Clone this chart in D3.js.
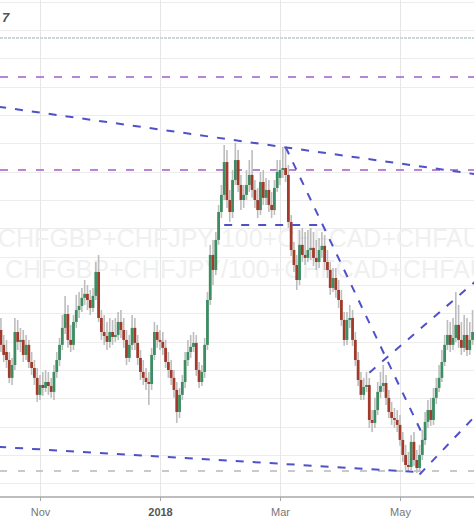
<!DOCTYPE html>
<html>
<head>
<meta charset="utf-8">
<script src="https://cdn.jsdelivr.net/npm/d3@7"></script>
<style>
html, body { margin: 0; padding: 0; background: #fff; }
svg { display: block; }
</style>
</head>
<body>
<div class="chart"></div>
<script>
var NS = {}; // namespace
NS.width = 474;
NS.height = 520;
NS.axisY = 497;

// first and last session in view (weekdays only)
var firstSession = "2017-10-11";
var lastSession = "2018-06-07";

// daily candles [open, high, low, close], one per weekday from firstSession
var ohlc = [
  [6.4181, 6.4259, 6.4040, 6.4082], [6.4082, 6.4167, 6.3927, 6.3977], [6.3977, 6.4047, 6.3856, 6.3906],
  [6.3927, 6.4012, 6.3814, 6.3870], [6.3870, 6.3927, 6.3708, 6.3744], [6.3744, 6.3885, 6.3694, 6.3835],
  [6.3835, 6.4167, 6.3800, 6.4068], [6.4068, 6.4153, 6.3941, 6.3998], [6.3998, 6.4097, 6.3927, 6.4012],
  [6.4012, 6.4082, 6.3856, 6.3906], [6.3906, 6.4047, 6.3870, 6.3977], [6.3977, 6.4012, 6.3814, 6.3856],
  [6.3856, 6.3927, 6.3765, 6.3814], [6.3814, 6.3870, 6.3694, 6.3744], [6.3744, 6.3814, 6.3574, 6.3624],
  [6.3624, 6.3765, 6.3588, 6.3694], [6.3694, 6.3786, 6.3617, 6.3673], [6.3673, 6.3800, 6.3645, 6.3715],
  [6.3715, 6.3786, 6.3624, 6.3687], [6.3687, 6.3744, 6.3603, 6.3645], [6.3645, 6.3835, 6.3588, 6.3786],
  [6.3786, 6.3927, 6.3744, 6.3870], [6.3870, 6.4026, 6.3828, 6.3977], [6.3977, 6.4188, 6.3941, 6.4097],
  [6.4097, 6.4323, 6.4054, 6.4195], [6.4195, 6.4259, 6.3956, 6.4012], [6.4012, 6.4118, 6.3927, 6.3977],
  [6.3977, 6.4188, 6.3941, 6.4139], [6.4139, 6.4330, 6.4097, 6.4223], [6.4223, 6.4351, 6.4167, 6.4252],
  [6.4252, 6.4379, 6.4209, 6.4309], [6.4309, 6.4435, 6.4259, 6.4337], [6.4337, 6.4400, 6.4223, 6.4294],
  [6.4294, 6.4365, 6.4188, 6.4238], [6.4238, 6.4379, 6.4209, 6.4323], [6.4323, 6.4562, 6.4294, 6.4492],
  [6.4492, 6.4612, 6.4139, 6.4167], [6.4167, 6.4223, 6.4012, 6.4068], [6.4068, 6.4188, 6.3977, 6.4040],
  [6.4040, 6.4139, 6.3941, 6.3998], [6.3998, 6.4167, 6.3956, 6.4068], [6.4068, 6.4153, 6.3977, 6.4033],
  [6.4033, 6.4167, 6.3998, 6.4047], [6.4047, 6.4209, 6.4012, 6.4139], [6.4139, 6.4223, 6.4026, 6.4082],
  [6.4082, 6.4167, 6.3956, 6.4012], [6.4012, 6.4082, 6.3835, 6.3885], [6.3885, 6.4047, 6.3856, 6.3977],
  [6.3977, 6.4188, 6.3941, 6.4097], [6.4097, 6.4167, 6.3941, 6.3991], [6.3991, 6.4047, 6.3835, 6.3885],
  [6.3885, 6.3941, 6.3729, 6.3786], [6.3786, 6.3870, 6.3694, 6.3744], [6.3744, 6.3814, 6.3659, 6.3715],
  [6.3715, 6.3786, 6.3553, 6.3701], [6.3701, 6.3956, 6.3659, 6.3906], [6.3906, 6.4139, 6.3870, 6.4068],
  [6.4068, 6.4118, 6.3956, 6.4012], [6.4012, 6.4082, 6.3941, 6.3998], [6.3998, 6.4068, 6.3906, 6.3956],
  [6.3956, 6.4012, 6.3814, 6.3856], [6.3856, 6.3927, 6.3744, 6.3800], [6.3800, 6.3870, 6.3694, 6.3744],
  [6.3744, 6.3800, 6.3603, 6.3659], [6.3659, 6.3715, 6.3426, 6.3503], [6.3503, 6.3673, 6.3461, 6.3624],
  [6.3624, 6.3765, 6.3588, 6.3715], [6.3715, 6.3927, 6.3673, 6.3870], [6.3870, 6.4012, 6.3828, 6.3927],
  [6.3927, 6.4047, 6.3885, 6.3963], [6.3963, 6.4068, 6.3927, 6.3991], [6.3991, 6.4047, 6.3758, 6.3800],
  [6.3800, 6.3856, 6.3673, 6.3715], [6.3715, 6.3835, 6.3687, 6.3786], [6.3786, 6.4026, 6.3744, 6.3977],
  [6.3977, 6.4351, 6.3941, 6.4294], [6.4294, 6.4683, 6.4259, 6.4612], [6.4612, 6.4718, 6.4400, 6.4506],
  [6.4506, 6.4774, 6.4471, 6.4718], [6.4718, 6.4965, 6.4683, 6.4915], [6.4915, 6.5106, 6.4873, 6.5036],
  [6.5036, 6.5389, 6.5000, 6.5268], [6.5268, 6.5353, 6.4944, 6.5000], [6.5000, 6.5071, 6.4845, 6.4915],
  [6.4915, 6.5212, 6.4873, 6.5141], [6.5141, 6.5403, 6.5106, 6.5282], [6.5282, 6.5353, 6.5057, 6.5106],
  [6.5106, 6.5177, 6.4929, 6.5000], [6.5000, 6.5106, 6.4944, 6.5036], [6.5036, 6.5212, 6.5000, 6.5106],
  [6.5106, 6.5282, 6.5057, 6.5177], [6.5177, 6.5353, 6.5015, 6.5071], [6.5071, 6.5141, 6.4944, 6.5000],
  [6.5000, 6.5085, 6.4873, 6.4929], [6.4929, 6.5198, 6.4894, 6.5127], [6.5127, 6.5212, 6.4965, 6.5015],
  [6.5015, 6.5156, 6.4965, 6.5071], [6.5071, 6.5141, 6.4915, 6.4965], [6.4965, 6.5057, 6.4873, 6.4929],
  [6.4929, 6.5141, 6.4894, 6.5085], [6.5085, 6.5282, 6.5057, 6.5198], [6.5156, 6.5282, 6.5106, 6.5212],
  [6.5212, 6.5375, 6.5156, 6.5226], [6.5226, 6.5367, 6.5127, 6.5177], [6.5177, 6.5247, 6.4803, 6.4845],
  [6.4845, 6.4894, 6.4605, 6.4647], [6.4647, 6.4704, 6.4492, 6.4541], [6.4541, 6.4612, 6.4365, 6.4435],
  [6.4435, 6.4788, 6.4400, 6.4683], [6.4683, 6.4803, 6.4562, 6.4612], [6.4612, 6.4774, 6.4541, 6.4591],
  [6.4591, 6.4788, 6.4562, 6.4647], [6.4647, 6.4803, 6.4576, 6.4662], [6.4662, 6.4774, 6.4534, 6.4591],
  [6.4591, 6.4718, 6.4506, 6.4562], [6.4562, 6.4732, 6.4520, 6.4647], [6.4647, 6.4774, 6.4591, 6.4676],
  [6.4676, 6.4753, 6.4506, 6.4562], [6.4562, 6.4647, 6.4449, 6.4506], [6.4506, 6.4562, 6.4330, 6.4379],
  [6.4379, 6.4520, 6.4351, 6.4449], [6.4449, 6.4520, 6.4309, 6.4365], [6.4365, 6.4435, 6.4238, 6.4294],
  [6.4294, 6.4365, 6.4111, 6.4153], [6.4153, 6.4209, 6.3970, 6.4012], [6.4012, 6.4209, 6.3977, 6.4153],
  [6.4153, 6.4259, 6.4097, 6.4167], [6.4167, 6.4223, 6.3970, 6.4012], [6.4012, 6.4068, 6.3828, 6.3870],
  [6.3870, 6.3927, 6.3687, 6.3729], [6.3729, 6.3786, 6.3588, 6.3624], [6.3624, 6.3744, 6.3588, 6.3680],
  [6.3680, 6.3786, 6.3645, 6.3694], [6.3694, 6.3744, 6.3391, 6.3447], [6.3447, 6.3517, 6.3362, 6.3426],
  [6.3426, 6.3603, 6.3391, 6.3517], [6.3517, 6.3715, 6.3482, 6.3645], [6.3645, 6.3786, 6.3603, 6.3687],
  [6.3687, 6.3835, 6.3645, 6.3708], [6.3708, 6.3765, 6.3553, 6.3603], [6.3603, 6.3659, 6.3461, 6.3503],
  [6.3503, 6.3574, 6.3412, 6.3461], [6.3461, 6.3531, 6.3391, 6.3447], [6.3447, 6.3517, 6.3362, 6.3412],
  [6.3412, 6.3482, 6.3264, 6.3306], [6.3306, 6.3362, 6.3150, 6.3200], [6.3200, 6.3271, 6.3094, 6.3129],
  [6.3129, 6.3221, 6.3080, 6.3115], [6.3115, 6.3341, 6.3094, 6.3292], [6.3292, 6.3362, 6.3122, 6.3164],
  [6.3164, 6.3235, 6.3073, 6.3108], [6.3108, 6.3271, 6.3080, 6.3200], [6.3200, 6.3376, 6.3164, 6.3306],
  [6.3306, 6.3503, 6.3271, 6.3433], [6.3433, 6.3588, 6.3391, 6.3517], [6.3517, 6.3603, 6.3405, 6.3447],
  [6.3447, 6.3673, 6.3412, 6.3603], [6.3603, 6.3744, 6.3560, 6.3673], [6.3673, 6.3835, 6.3645, 6.3744],
  [6.3744, 6.3941, 6.3715, 6.3856], [6.3856, 6.4047, 6.3828, 6.3977], [6.3977, 6.4153, 6.3941, 6.4047],
  [6.4047, 6.4139, 6.3927, 6.3977], [6.3977, 6.4167, 6.3941, 6.4026], [6.4026, 6.4351, 6.3998, 6.4118],
  [6.4118, 6.4259, 6.3956, 6.4012], [6.4012, 6.4139, 6.3906, 6.3956], [6.3956, 6.4188, 6.3927, 6.4047],
  [6.4047, 6.4167, 6.3899, 6.3941], [6.3941, 6.4139, 6.3906, 6.4012], [6.4012, 6.4223, 6.3977, 6.4068],
  [6.4068, 6.4188, 6.3941, 6.3977]
];

// x axis labels
var tickDates = ["2017-11-01", "2018-01-01", "2018-03-01", "2018-05-01"];
var tickLabels = ["Nov", "2018", "Mar", "May"];

// horizontal levels
var purpleLevels = [6.5868, 6.5212];
var tealLevel = 6.6144;
var grayLevel = 6.3087;

// trend lines [fromDate, fromValue, toDate, toValue]
var trendLines = [
  ["2017-10-11", 6.5659, "2018-06-07", 6.5182],
  ["2018-03-05", 6.5374, "2018-05-14", 6.3306],
  ["2018-02-01", 6.4824, "2018-03-22", 6.4824],
  ["2018-04-16", 6.3781, "2018-06-07", 6.4425],
  ["2018-05-10", 6.3062, "2018-06-07", 6.3476],
  ["2017-10-11", 6.3257, "2018-05-09", 6.3080]
];

var watermark = ["CHFGBP+CHFJPY/100+CHFCAD+CHFAUD", "CHFGBP+CHFJPY/100+CHFCAD+CHFAUD"];
var titleTail = "7";

function main() {
  var parse = d3.timeParse("%Y-%m-%d");
  var fmt = d3.timeFormat("%Y-%m-%d");

  // weekday sessions
  NS.sessions = d3.timeDay.range(parse(firstSession), d3.timeDay.offset(parse(lastSession), 1))
    .filter(function(d) { return d.getDay() != 0 && d.getDay() != 6; })
    .map(fmt);
  var idx = function(s) { return NS.sessions.indexOf(s); };

  var x = d3.scaleLinear()
    .domain([idx(tickDates[0]), idx(tickDates[3])])
    .range([40, 400]);
  var y = d3.scaleLinear()
    .domain([6.2903, 6.6412])
    .range([NS.axisY, 0]);

  NS.svg = d3.select(".chart").append("svg")
    .attr("width", NS.width)
    .attr("height", NS.height)
    .style("font-family", "'Liberation Sans', Arial, sans-serif");

  // grid
  var grid = NS.svg.append("g").attr("class", "grid");
  grid.selectAll("line.h")
    .data(y.ticks(18))
    .enter().append("line")
      .attr("class", "h")
      .attr("x1", 0).attr("x2", NS.width)
      .attr("y1", function(d) { return Math.round(y(d)) + 0.5; })
      .attr("y2", function(d) { return Math.round(y(d)) + 0.5; })
      .attr("stroke", "#ececec");
  grid.selectAll("line.v")
    .data(tickDates)
    .enter().append("line")
      .attr("class", "v")
      .attr("x1", function(d) { return Math.round(x(idx(d))) + 0.5; })
      .attr("x2", function(d) { return Math.round(x(idx(d))) + 0.5; })
      .attr("y1", 0).attr("y2", NS.axisY)
      .attr("stroke", "#e6e6e6");

  // watermark (runs past the right edge, as in the source)
  NS.svg.append("g").selectAll("text")
    .data(watermark)
    .enter().append("text")
      .attr("x", function(d, i) { return i == 0 ? -2 : 5; })
      .attr("y", function(d, i) { return i == 0 ? 247 : 278; })
      .attr("font-size", 25)
      .attr("fill", "#f0f0f0")
      .text(function(d) { return d; });

  // title remnant
  NS.svg.append("text")
    .attr("x", 2).attr("y", 22)
    .attr("font-size", 13)
    .attr("font-weight", "bold")
    .attr("font-style", "italic")
    .attr("fill", "#555")
    .text(titleTail);

  // levels
  var levels = NS.svg.append("g").attr("class", "levels");
  levels.append("line")
    .attr("x1", 0).attr("x2", NS.width)
    .attr("y1", y(tealLevel)).attr("y2", y(tealLevel))
    .attr("stroke", "#c9d9d9").attr("stroke-width", 2)
    .attr("stroke-dasharray", "3,1");
  levels.selectAll("line.purple")
    .data(purpleLevels)
    .enter().append("line")
      .attr("class", "purple")
      .attr("x1", 0).attr("x2", NS.width)
      .attr("y1", function(d) { return y(d); })
      .attr("y2", function(d) { return y(d); })
      .attr("stroke", "#b884d8").attr("stroke-width", 2)
      .attr("stroke-dasharray", "8,10");
  levels.append("line")
    .attr("x1", 0).attr("x2", NS.width)
    .attr("y1", y(grayLevel)).attr("y2", y(grayLevel))
    .attr("stroke", "#b8b8b8").attr("stroke-width", 1.5)
    .attr("stroke-dasharray", "7,11");

  // candles
  var candle = NS.svg.append("g").attr("class", "candles")
    .selectAll("g")
    .data(ohlc)
    .enter().append("g");
  candle.append("line")
    .attr("x1", function(d, i) { return x(i); })
    .attr("x2", function(d, i) { return x(i); })
    .attr("y1", function(d) { return y(d[1]); })
    .attr("y2", function(d) { return y(d[2]); })
    .attr("stroke", "#bdbdbd")
    .attr("stroke-width", 1.6);
  candle.append("rect")
    .attr("x", function(d, i) { return x(i) - 1.4; })
    .attr("width", 2.8)
    .attr("y", function(d) { return y(Math.max(d[0], d[3])); })
    .attr("height", function(d) { return Math.max(1, Math.abs(y(d[0]) - y(d[3]))); })
    .attr("fill", function(d) { return d[3] >= d[0] ? "#3d8c62" : "#a03a2a"; });

  // trend lines
  NS.svg.append("g").attr("class", "trends")
    .selectAll("line")
    .data(trendLines)
    .enter().append("line")
      .attr("x1", function(d) { return x(idx(d[0])); })
      .attr("y1", function(d) { return y(d[1]); })
      .attr("x2", function(d) { return x(idx(d[2])); })
      .attr("y2", function(d) { return y(d[3]); })
      .attr("stroke", "#5050c8")
      .attr("stroke-width", 2)
      .attr("stroke-dasharray", "8,9");

  // x axis
  NS.svg.append("line")
    .attr("x1", 0).attr("x2", NS.width)
    .attr("y1", NS.axisY).attr("y2", NS.axisY)
    .attr("stroke", "#a8a8a8").attr("stroke-width", 1.5);
  var axis = NS.svg.append("g")
    .attr("transform", "translate(0," + NS.axisY + ")")
    .call(d3.axisBottom(x)
      .tickValues(tickDates.map(idx))
      .tickSize(4)
      .tickPadding(7)
      .tickFormat(function(d, i) { return tickLabels[i]; }));
  axis.select(".domain").remove();
  axis.selectAll(".tick line").attr("stroke", "#a8a8a8");
  axis.selectAll(".tick text")
    .attr("font-family", "'Liberation Sans', Arial, sans-serif")
    .attr("font-size", 11)
    .attr("fill", function(d, i) { return i == 1 ? "#555" : "#777"; })
    .attr("font-weight", function(d, i) { return i == 1 ? "bold" : "normal"; });
}

main();
</script>
</body>
</html>
